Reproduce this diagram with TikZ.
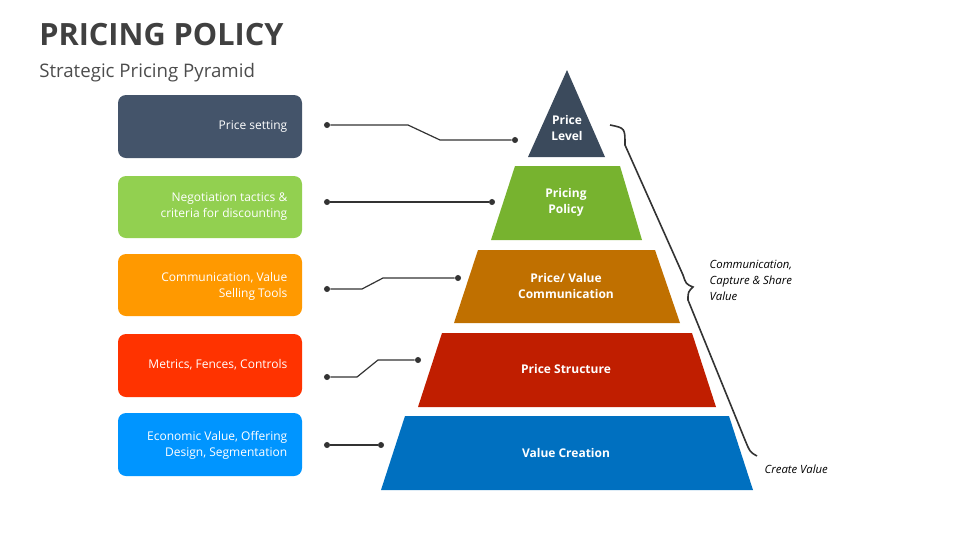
\documentclass[tikz,border=0pt]{standalone}
\usepackage{fontspec}
\setmainfont{Open Sans}
\begin{document}
\begin{tikzpicture}[x=0.75pt, y=-0.75pt, font=\sffamily,
    card/.style={rounded corners=6pt},
    cardtext/.style={anchor=east, align=right, text=white, font=\fontsize{9}{12}\selectfont},
    layertext/.style={text=white, align=center, font=\bfseries\fontsize{9}{12}\selectfont},
    link/.style={line width=0.9pt, black!80},
    dot/.style={circle, fill=black!80, inner sep=1.6pt}]
  \useasboundingbox (0,0) rectangle (960,540);
  % title
  \node[anchor=west, inner sep=0pt, font=\bfseries\fontsize{23}{27}\selectfont, text=black!75] (title) at (39,35) {PRICING POLICY};
  \node[anchor=west, inner sep=0pt, font=\fontsize{14}{17}\selectfont, text=black!70] (subtitle) at (39,73) {Strategic Pricing Pyramid};
  % pyramid
  \fill[fill={rgb,255:red,59;green,74;blue,92}] (567,70) -- (605,157) -- (528,157) -- cycle;
  \fill[fill={rgb,255:red,119;green,179;blue,47}] (515,166) -- (620,166) -- (642,240) -- (491,240) -- cycle;
  \fill[fill={rgb,255:red,192;green,112;blue,0}] (478,250) -- (655,250) -- (680,323) -- (454,323) -- cycle;
  \fill[fill={rgb,255:red,192;green,30;blue,0}] (442,333) -- (692,333) -- (716,407) -- (418,407) -- cycle;
  \fill[fill={rgb,255:red,0;green,112;blue,192}] (405,416) -- (729,416) -- (753,490) -- (381,490) -- cycle;
  \node[layertext] (l1) at (567,128) {Price\\Level};
  \node[layertext] (l2) at (566,202) {Pricing\\Policy};
  \node[layertext] (l3) at (566,286) {Price/ Value\\Communication};
  \node[layertext] (l4) at (566,369) {Price Structure};
  \node[layertext] (l5) at (566,453) {Value Creation};
  % cards
  \fill[card, fill={rgb,255:red,68;green,84;blue,106}] (118,95) rectangle (302,158);
  \fill[card, fill={rgb,255:red,146;green,208;blue,80}] (118,176) rectangle (302,238);
  \fill[card, fill={rgb,255:red,255;green,153;blue,0}] (118,254) rectangle (302,316);
  \fill[card, fill={rgb,255:red,255;green,51;blue,0}] (118,334) rectangle (302,397);
  \fill[card, fill={rgb,255:red,0;green,149;blue,255}] (118,413) rectangle (302,476);
  \node[cardtext] (c1) at (292,127) {Price setting};
  \node[cardtext] (c2) at (292,207) {Negotiation tactics \&\\criteria for discounting};
  \node[cardtext] (c3) at (292,286) {Communication, Value\\Selling Tools};
  \node[cardtext] (c4) at (292,365) {Metrics, Fences, Controls};
  \node[cardtext] (c5) at (292,445) {Economic Value, Offering\\Design, Segmentation};
  % connectors
  \node[dot] (a1) at (327,125) {}; \node[dot] (b1) at (515,140) {};
  \node[dot] (a2) at (327,202) {}; \node[dot] (b2) at (492,202) {};
  \node[dot] (a3) at (327,289) {}; \node[dot] (b3) at (458,278) {};
  \node[dot] (a4) at (327,377) {}; \node[dot] (b4) at (418,360) {};
  \node[dot] (a5) at (327,445) {}; \node[dot] (b5) at (381,445) {};
  \draw[link] (a1) -- (408,125) -- (440,140) -- (b1);
  \draw[link] (a2) -- (b2);
  \draw[link] (a3) -- (362,289) -- (383,278) -- (b3);
  \draw[link] (a4) -- (357,377) -- (378,360) -- (b4);
  \draw[link] (a5) -- (b5);
  % brace
  \draw[line width=1.2pt, black!80] (610,125) .. controls (625,128) .. (625,145)
    -- (683,275) .. controls (686,284) .. (693,287) .. controls (688,292) .. (688,300)
    -- (745,440) .. controls (750,452) .. (757,456);
  \node[anchor=west, align=left, font=\itshape\fontsize{8.5}{12}\selectfont] (top) at (705,280) {Communication,\\Capture \& Share\\Value};
  \node[anchor=west, font=\itshape\fontsize{8.5}{12}\selectfont] (bottom) at (760,469) {Create Value};
\end{tikzpicture}
\end{document}
